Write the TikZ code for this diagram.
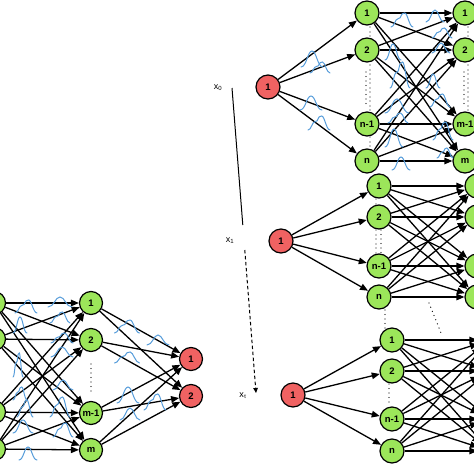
\documentclass[tikz,border=0pt]{standalone}
\usepackage{fontspec}
\setmainfont{Liberation Sans}
\usetikzlibrary{arrows.meta}
\definecolor{ngreen}{RGB}{156,230,90}
\definecolor{nred}{RGB}{240,98,98}
\definecolor{wblue}{RGB}{86,156,218}
\definecolor{lgray}{RGB}{200,200,200}
\newcommand\wbump[4]{\draw[bumpline] (#1-#3/2,#2) .. controls (#1-#3/4,#2) and (#1-#3/5,#2-#4) .. (#1,#2-#4) .. controls (#1+#3/5,#2-#4) and (#1+#3/4,#2) .. (#1+#3/2,#2);}
\newcommand\wbumpb[4]{\draw[bumpline] (#1-#3/2,#2) .. controls (#1-#3/3,#2) and (#1-#3/3,#2-0.6*#4) .. (#1-#3/6,#2-0.6*#4) .. controls (#1,#2-0.6*#4) and (#1-#3/10,#2-#4) .. (#1+#3/8,#2-#4) .. controls (#1+#3/4,#2-#4) and (#1+#3/3,#2) .. (#1+#3/2,#2);}
\tikzset{
  gnode/.style={circle,draw,fill=ngreen,minimum size=24pt,inner sep=0pt,line width=1.2pt,font=\bfseries\fontsize{9.5}{10}\selectfont},
  rnode/.style={gnode,fill=nred},
  snode/.style={minimum size=23pt},
  edge/.style={-{Triangle[length=8pt,width=6.5pt]},line width=1.3pt},
  bumpline/.style={wblue,line width=1pt,line cap=round},
  blackdots/.style={line width=1.3pt,line cap=round,dash pattern=on 0pt off 4.5pt},
  graydots/.style={lgray,line width=2pt,dash pattern=on 2pt off 2.5pt},
  lbl/.style={inner sep=0pt,font=\fontsize{9}{10}\selectfont},
  tline/.style={line width=1pt},
}
\begin{document}
\begin{tikzpicture}[x=1pt,y=-1pt]
\useasboundingbox (0,0) rectangle (474,474);
\clip (0,0) rectangle (474,474);

% ---------- gray artefact dots ----------
\draw[graydots] (370,26) -- (370,38);
\draw[graydots] (370,64) -- (370,112);
\draw[graydots] (370,136) -- (370,150);
\draw[graydots] (468,26) -- (468,38);
\draw[graydots] (468,64) -- (468,112);
\draw[graydots] (376,229) -- (376,255);
\draw[graydots] (376,198) -- (376,205);

% ---------- left network ----------
\foreach \i/\y in {1/303,2/339,3/412,4/449}
  \node[gnode,snode] (lL\i) at (-6,\y) {};
\foreach \i/\y/\t in {1/303/1,2/340/2,3/413/m-1,4/450/m}
  \node[gnode,snode] (lM\i) at (91,\y) {\t};
\node[rnode,snode] (lO1) at (191,359) {1};
\node[rnode,snode] (lO2) at (191,396) {2};
\foreach \i in {1,...,4}{
  \foreach \j in {1,...,4} \draw[edge] (lL\i) -- (lM\j);
  \foreach \j in {1,2} \draw[edge] (lM\i) -- (lO\j);
}
\draw[blackdots] (91,364) -- (91,393);

% ---------- top network ----------
\node[rnode] (tR) at (268,87) {1};
\foreach \i/\y/\t/\u in {1/13/1/1,2/50/2/2,3/124/n-1/m-1,4/161/n/m}{
  \node[gnode] (tA\i) at (367,\y) {\t};
  \node[gnode] (tB\i) at (465,\y) {\u};
}
\foreach \i in {1,...,4}{
  \draw[edge] (tR) -- (tA\i);
  \foreach \j in {1,...,4} \draw[edge] (tA\i) -- (tB\j);
}
\draw[blackdots] (366,72) -- (366,104);
\draw[blackdots] (464,72) -- (464,104);

% ---------- middle network ----------
\node[rnode] (mR) at (281,241) {1};
\foreach \i/\y/\t in {1/186/1,2/217/2,3/266/n-1,4/297/n}{
  \node[gnode] (mA\i) at (379,\y) {\t};
  \node[gnode] (mB\i) at (477,\y) {};
}
\foreach \i in {1,...,4}{
  \draw[edge] (mR) -- (mA\i);
  \foreach \j in {1,...,4} \draw[edge] (mA\i) -- (mB\j);
}
\draw[blackdots] (381,230) -- (381,256);

% ---------- bottom network ----------
\node[rnode] (bR) at (293,395) {1};
\foreach \i/\y/\t in {1/340/1,2/371/2,3/419/n-1,4/451/n}{
  \node[gnode] (bA\i) at (392,\y) {\t};
  \node[gnode] (bB\i) at (490,\y) {};
}
\foreach \i in {1,...,4}{
  \draw[edge] (bR) -- (bA\i);
  \foreach \j in {1,...,4} \draw[edge] (bA\i) -- (bB\j);
}
\draw[blackdots] (389,384) -- (389,406);
\draw[blackdots] (385,310) -- (385,330);
\draw[blackdots] (429,303) -- (441,333);

% ---------- time axis ----------
\coordinate (t0) at (232,88);
\coordinate (t1) at (242.8,225);
\coordinate (t2) at (244.8,250);
\coordinate (t3) at (256,393);
\draw[tline] (t0) -- (t1);
\draw[tline,dash pattern=on 3.5pt off 2.5pt,-{Triangle[length=5pt,width=4.5pt]}] (t2) -- (t3);
\node[lbl] (lx0) at (218,88) {x\textsubscript{0}};
\node[lbl] (lx1) at (230,241) {x\textsubscript{1}};
\node[lbl] (lxt) at (243,396) {x\textsubscript{τ}};

% ---------- blue weight distributions: top network ----------
\wbump{312}{67}{22}{16}
\wbumpb{320}{73}{20}{11}
\wbump{311}{110}{22}{14}
\wbumpb{319}{130}{22}{14}
\wbumpb{402}{27}{22}{14}
\wbump{435}{22}{18}{12}
\wbumpb{442}{38}{20}{10}
\wbump{393}{60}{16}{16}
\wbump{441}{53}{18}{10}
\wbumpb{400}{88}{20}{26}
\wbump{433}{88}{14}{14}
\wbumpb{440}{107}{20}{13}
\wbump{397}{113}{24}{14}
\wbumpb{398}{123}{20}{10}
\wbumpb{443}{140}{20}{18}
\wbump{394}{147}{18}{18}
\wbump{401}{170}{18}{13}
\wbumpb{445}{158}{16}{10}

% ---------- blue weight distributions: left network ----------
\wbumpb{26}{313}{22}{13}
\wbump{60}{307}{24}{10}
\wbumpb{60}{323}{20}{11}
\wbump{20}{333}{14}{16}
\wbumpb{62}{343}{22}{10}
\wbumpb{18}{377}{10}{24}
\wbump{62}{357}{22}{10}
\wbumpb{20}{400}{14}{13}
\wbump{63}{390}{20}{10}
\wbumpb{25}{417}{16}{17}
\wbumpb{60}{417}{20}{20}
\wbump{23}{433}{20}{13}
\wbumpb{63}{437}{20}{14}
\wbump{28}{460}{18}{13}
\wbumpb{127}{333}{25}{13}
\wbump{158}{345}{22}{10}
\wbumpb{127}{363}{25}{11}
\wbump{128}{403}{22}{16}
\wbumpb{155}{410}{22}{16}
\wbump{130}{420}{20}{12}
\end{tikzpicture}
\end{document}
